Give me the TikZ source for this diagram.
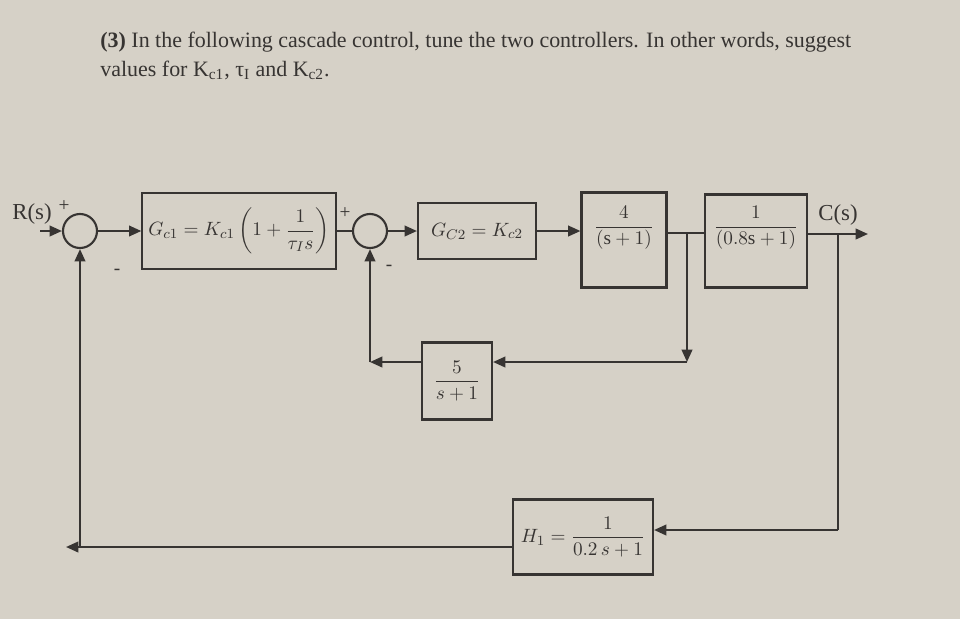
\documentclass[tikz,border=0pt]{standalone}
\usepackage{amsmath}
\usepackage{fontspec}
\setmainfont{Liberation Serif}
\usetikzlibrary{arrows.meta}
\definecolor{paper}{RGB}{214,209,199}
\definecolor{ink}{RGB}{55,52,50}
\begin{document}
\begin{tikzpicture}[x=0.02cm,y=-0.02cm,
  blk/.style={draw=ink,line width=1.2pt},
  sumc/.style={draw=ink,line width=1.2pt,circle,minimum size=34*0.02cm,inner sep=0},
  line/.style={draw=ink,line width=1.2pt},
  arr/.style={line,-{Triangle[length=7pt,width=6pt]}},
  lbl/.style={text=ink,font=\fontsize{11}{13}\selectfont}]
\useasboundingbox (0,0) rectangle (960,619);
\fill[paper] (0,0) rectangle (960,619);
\node[anchor=north west,text=ink,font=\fontsize{12.5}{16.5}\selectfont,align=left,inner sep=0] (title) at (100,32)
 {\textbf{(3)} In the following cascade control, tune the two controllers. In other words, suggest\\
  values for K\textsubscript{c1}, τ\textsubscript{I} and K\textsubscript{c2}.};
\node[sumc] (s1) at (80,231) {};
\node[sumc] (s2) at (370,231) {};
\node[blk,minimum width=192*0.02cm,minimum height=76*0.02cm,lbl] (gc1) at (239,231)
  {$G_{c1}=K_{c1}\left(1+\dfrac{1}{\tau_I s}\right)$};
\node[blk,minimum width=118*0.02cm,minimum height=56*0.02cm,lbl] (gc2) at (477,231) {$G_{C2}=K_{c2}$};
\node[blk,minimum width=85*0.02cm,minimum height=95*0.02cm] (gp) at (624,240) {};
\node[lbl] (gpt) at (624,228) {$\dfrac{4}{(\mathrm{s}+1)}$};
\node[blk,minimum width=102*0.02cm,minimum height=93*0.02cm] (gm) at (756,241) {};
\node[lbl] (gmt) at (756,228) {$\dfrac{1}{(0.8\mathrm{s}+1)}$};
\node[blk,minimum width=70*0.02cm,minimum height=77*0.02cm,lbl] (g5) at (457,381) {$\dfrac{5}{s+1}$};
\node[blk,minimum width=140*0.02cm,minimum height=75*0.02cm,lbl] (h1) at (583,537) {$H_1=\dfrac{1}{0.2\,s+1}$};
\node[lbl,font=\fontsize{13}{15}\selectfont] (r) at (32,214) {R(s)};
\node[lbl,font=\fontsize{13}{15}\selectfont] (c) at (838,215) {C(s)};
\node[lbl] (p1) at (64,206) {+};
\node[lbl] (p2) at (345,213) {+};
\node[lbl] (m1) at (117,272) {-};
\node[lbl] (m2) at (389,268) {-};
\coordinate (rin) at (40,231);
\coordinate (cout) at (868,234);
\coordinate (b1) at (687,233);
\coordinate (b1d) at (687,362);
\coordinate (b2) at (838,234);
\coordinate (b2d) at (838,530);
\coordinate (hl) at (66,547);
\coordinate (hc) at (80,547);
\coordinate (fl) at (370,362);
\draw[arr] (rin) -- (s1.west);
\draw[arr] (s1.east) -- (gc1.west);
\draw[line] (gc1.east) -- (s2.west);
\draw[arr] (s2.east) -- (gc2.west);
\draw[arr] (gc2.east) -- (gp.west |- gc2.east);
\draw[line] (gp.east |- b1) -- (gm.west |- b1);
\draw[arr] (gm.east |- cout) -- (cout);
\draw[arr] (b1) -- (b1d);
\draw[arr] (b1d) -- (g5.east |- b1d);
\draw[arr] (g5.west |- fl) -- (fl);
\draw[arr] (fl) -- (s2.south);
\draw[line] (b2) -- (b2d);
\draw[arr] (b2d) -- (h1.east |- b2d);
\draw[arr] (h1.west |- hl) -- (hl);
\draw[arr] (hc) -- (s1.south);
\end{tikzpicture}
\end{document}
